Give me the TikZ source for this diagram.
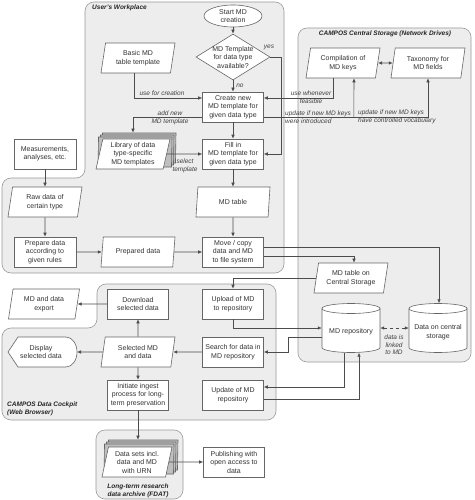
\documentclass[tikz,border=0pt]{standalone}
\usepackage{fontspec}
\setmainfont{Liberation Sans}
\usetikzlibrary{shapes.geometric,arrows.meta,calc}
\begin{document}
\begin{tikzpicture}[x=1pt,y=-1pt,
  every node/.style={font=\fontsize{7}{8.5}\selectfont, text=black!80},
  panel/.style={draw=black!40, fill=black!7, rounded corners=9pt, line width=0.6pt},
  box/.style={draw=black!60, fill=white, minimum width=61pt, minimum height=30pt, align=center, inner sep=1pt, line width=0.6pt},
  para/.style={trapezium, trapezium left angle=75, trapezium right angle=105, trapezium stretches body, draw=black!60, fill=white, minimum width=74pt, minimum height=30pt, align=center, inner sep=1pt, line width=0.6pt},
  backpara/.style={para, fill=black!25},
  shp/.style={draw=black!60, fill=white, line width=0.6pt},
  plain/.style={inner sep=0pt, align=center},
  arr/.style={draw=black!70, line width=0.6pt, -{Latex[length=4pt,width=3.5pt]}},
  lbl/.style={font=\fontsize{6.5}{7.6}\selectfont\itshape, text=black!75, inner sep=0pt},
  ttl/.style={font=\fontsize{6.5}{7.6}\selectfont\bfseries\itshape, text=black!85, inner sep=0pt}
]
\useasboundingbox (0,0) rectangle (474,500);

% ---------- panels ----------
\draw[panel] (85,2) -- (284,2) -- (284,273) -- (2,273) -- (2,178) -- (85,178) -- cycle;
\draw[panel] (298,28) rectangle (471,362);
\draw[panel] (97,284) -- (276,284) -- (276,420) -- (2,420) -- (2,328) -- (97,328) -- cycle;
\draw[panel] (96,430) rectangle (183,499);

\node[ttl, anchor=west] (t1) at (92,8) {User's Workplace};
\node[ttl] (t2) at (385,34) {CAMPOS Central Storage (Network Drives)};
\node[ttl, anchor=west, align=left] (t3) at (7,409) {CAMPOS Data Cockpit\\(Web Browser)};
\node[ttl, align=center] (t4) at (138,491) {Long-term research\\data archive (FDAT)};

% ---------- User's workplace ----------
\node[ellipse, draw=black!60, fill=white, line width=0.6pt, minimum width=58pt, minimum height=22pt, inner sep=0pt, align=center] (start) at (233,16) {Start MD\\creation};
\node[diamond, aspect=1.6, draw=black!60, fill=white, line width=0.6pt, minimum width=74pt, minimum height=46pt, inner sep=0pt] (dec) at (233,57) {};
\node[plain] (dectxt) at (233,57) {MD Template\\for data type\\available?};
\node[para] (basic) at (138,58) {Basic MD\\table template};
\node[box] (create) at (233,107) {Create new\\MD template for\\given data type};
\node[backpara] (lib3) at (139,148) {};
\node[backpara] (lib2) at (137,150) {};
\node[backpara] (lib1) at (135,152) {};
\node[para] (lib) at (133,154) {Library of data\\type-specific\\MD templates};
\node[box] (fill) at (233,154) {Fill in\\MD template for\\given data type};
\node[box, minimum width=62pt] (meas) at (45,154) {Measurements,\\analyses, etc.};
\node[para] (raw) at (45,202) {Raw data of\\certain type};
\node[box, minimum width=62pt] (prep) at (45,252) {Prepare data\\according to\\given rules};
\node[para] (prepd) at (138,252) {Prepared data};
\node[para] (mdtab) at (233,202) {MD table};
\node[box] (move) at (233,252) {Move / copy\\data and MD\\to file system};

% ---------- Central storage ----------
\node[para] (comp) at (343,63) {Compilation of\\MD keys};
\node[para] (tax) at (428,63) {Taxonomy for\\MD fields};
\node[para] (mdcs) at (351,278) {MD table on\\Central Storage};

\begin{scope}[shift={(351,328)}]
  \path[shp] (-29pt,19.5pt) -- (-29pt,-19.5pt) arc[start angle=180,end angle=360,x radius=29pt,y radius=5pt] -- (29pt,19.5pt) arc[start angle=0,end angle=180,x radius=29pt,y radius=5pt] -- cycle;
  \draw[draw=black!60, line width=0.6pt] (-29pt,19.5pt) arc[start angle=180,end angle=360,x radius=29pt,y radius=5pt];
\end{scope}
\begin{scope}[shift={(438,328)}]
  \path[shp] (-29pt,19.5pt) -- (-29pt,-19.5pt) arc[start angle=180,end angle=360,x radius=29pt,y radius=5pt] -- (29pt,19.5pt) arc[start angle=0,end angle=180,x radius=29pt,y radius=5pt] -- cycle;
  \draw[draw=black!60, line width=0.6pt] (-29pt,19.5pt) arc[start angle=180,end angle=360,x radius=29pt,y radius=5pt];
\end{scope}
\node[minimum width=58pt, minimum height=49pt, inner sep=0pt] (mdrepo) at (351,328) {};
\node[plain] (mdrepotxt) at (351,332) {MD repository};
\node[minimum width=58pt, minimum height=49pt, inner sep=0pt] (store) at (438,328) {};
\node[plain] (storetxt) at (438,332) {Data on central\\storage};

% ---------- Cockpit ----------
\node[box] (upload) at (233,304) {Upload of MD\\to repository};
\node[box] (download) at (138,304) {Download\\selected data};
\node[para, minimum width=71pt] (export) at (44,304) {MD and data\\export};
\draw[shp] (8,352) -- (18,337) -- (66,337) arc[start angle=90,end angle=-90,x radius=11pt,y radius=15pt] -- (18,367) -- cycle;
\node[plain] (display) at (41,352) {Display\\selected data};
\node[para] (sel) at (138,352) {Selected MD\\and data};
\node[box] (search) at (233,352) {Search for data in\\MD repository};
\node[box] (ingest) at (138,395) {Initiate ingest\\process for long-\\term preservation};
\node[box] (update) at (233,395) {Update of MD\\repository};

% ---------- Archive ----------
\node[backpara, minimum width=70pt] (ds3) at (143,455) {};
\node[backpara, minimum width=70pt] (ds2) at (141,457) {};
\node[backpara, minimum width=70pt] (ds1) at (139,459) {};
\node[para, minimum width=70pt] (ds) at (137,462) {Data sets incl.\\data and MD\\with URN};
\node[box] (pub) at (234,462) {Publishing with\\open access to\\data};

% ---------- connectors ----------
\draw[arr] (start) -- (dec);
\draw[arr] (dec) -- (create) node[lbl, pos=0.5, anchor=west, xshift=3pt] {no};
\draw[arr] (dec.east) -- ++(11,0) |- (fill.east);
\node[lbl] (yes) at (269,47) {yes};
\draw[arr] (create) -- (fill);
\draw[arr] ([xshift=-4pt]basic.south) |- ([yshift=9pt]create.west);
\node[lbl] (l1) at (162,93) {use for creation};
\draw[arr] ([yshift=-10pt]create.west) -| ([xshift=-6pt]lib3.north);
\node[lbl, align=center] (l2) at (170,118) {add new\\MD template};
\draw[arr] (lib.east) -- (fill.west);
\node[lbl, align=center] (l3) at (185,166) {select\\template};
\draw[arr] (fill) -- (mdtab);
\draw[arr] (mdtab) -- (move);
\draw[arr] (meas) -- (raw);
\draw[arr] (raw) -- (prep);
\draw[arr] (prep) -- (prepd);
\draw[arr] (prepd) -- (move);

\draw[arr] ([xshift=-10pt]comp.south) |- ([yshift=9pt]create.east);
\node[lbl, align=center] (l4) at (311,97) {use whenever\\feasible};
\draw[arr] ([yshift=-10pt]create.east) -| (tax.south);
\draw[arr] ($([yshift=-10pt]create.east)!0!(tax.south)$) ++(90,0) -- ([xshift=11pt]comp.south);
\node[lbl, anchor=west, align=left] (l5) at (285,117) {update if new MD keys\\were introduced};
\node[lbl, anchor=west, align=left] (l6) at (358,117) {update if new MD keys\\have controlled vocabulary};
\draw[draw=black!70, line width=0.6pt, {Latex[length=4pt,width=3.5pt]}-{Latex[length=4pt,width=3.5pt]}] (comp.east) -- (tax.west);

\draw[arr] ([yshift=5pt]move.east) -| ([xshift=1pt]store.north);
\draw[arr] ([yshift=-4pt]move.east) -| ([xshift=3pt]mdcs.north);
\draw[arr] (mdcs.west) -| (upload.north);
\draw[arr] (upload.south) |- (mdrepo.west);
\draw[arr] ([yshift=-9pt]mdrepo.west) -- ++(-34,0) |- (search.east);
\draw[arr] ([xshift=-7pt]mdrepo.south) |- ([yshift=8pt]update.east);
\draw[arr] ([yshift=-4pt]update.east) -| ([xshift=8pt]mdrepo.south);
\draw[draw=black!70, line width=0.6pt, dashed, {Latex[length=4pt,width=3.5pt]}-{Latex[length=4pt,width=3.5pt]}] (mdrepo.east) -- (store.west);
\node[lbl, align=center] (l7) at (394,345) {data is\\linked\\to MD};

\draw[arr] (search) -- (sel);
\draw[arr] (sel.west) -- (display.east -| 77,0);
\draw[arr] (sel) -- (download);
\draw[arr] (download) -- (export);
\draw[arr] (sel) -- (ingest);
\draw[arr] (ingest.south) -- (ingest.south |- ds3.north);
\draw[arr] (ds.east) -- (pub.west);
\end{tikzpicture}
\end{document}
